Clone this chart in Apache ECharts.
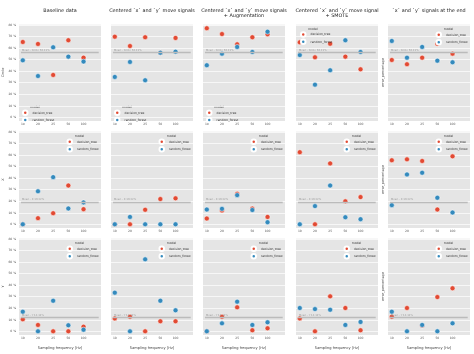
<!DOCTYPE html>
<html>
<head>
<meta charset="utf-8">
<script src="https://cdn.jsdelivr.net/npm/echarts@6/dist/echarts.min.js"></script>
<style>
  html, body { margin: 0; padding: 0; background: #fff; }
  #main { width: 474px; height: 354px; }
</style>
</head>
<body>
<div id="main"></div>
<script>
// sampling frequencies (x categories)
var categories = ['10', '20', '25', '50', '100'];
var models = ['decision_tree', 'random_forest'];
var rowNames = ['Circle', 'X', 'Y'];
var colTitles = [
  'Baseline data',
  'Centered `x` and `y` move signals',
  'Centered `x` and `y` move signals\n+ Augmentation',
  'Centered `x` and `y` move signal\n+ SMOTE',
  '`x` and `y` signals at the end'
];
var meanValues = [56.21, 19.32, 12.11];

// error percentage, one list per column
var dtCircle = [
  [65.3, 63.6, 36.7, 66.8, 51.7],
  [69.9, 61.8, 69.4, 56.0, 68.8],
  [77.2, 72.2, 63.3, 69.4, 72.0],
  [65.0, 52.0, 63.8, 52.6, 41.6],
  [49.7, 46.0, 51.7, 63.8, 55.2]
];
var rfCircle = [
  [49.4, 35.8, 60.7, 52.6, 48.3],
  [35.0, 48.0, 32.1, 56.0, 56.9],
  [45.1, 55.2, 61.0, 56.6, 74.2],
  [54.0, 28.3, 40.8, 66.8, 56.6],
  [66.2, 51.7, 61.0, 49.1, 47.7]
];
var dtX = [
  [0, 5.3, 9.6, 33.6, 13.1],
  [0, 0, 12.6, 21.9, 22.5],
  [5.0, 12.0, 26.5, 13.6, 6.4],
  [62.5, 0, 52.8, 19.9, 23.6],
  [55.5, 56.3, 54.9, 12.8, 58.9]
];
var rfX = [
  [0, 28.6, 40.9, 13.7, 19.0],
  [0, 6.4, 0, 0, 0],
  [12.8, 13.4, 25.3, 12.4, 1.8],
  [0, 15.8, 33.6, 6.1, 4.4],
  [16.6, 43.2, 44.7, 23.0, 10.2]
];
var dtY = [
  [10.4, 5.5, 0, 0, 4.0],
  [11.2, 12.7, 0, 8.7, 8.7],
  [0, 12.7, 20.8, 0.9, 2.6],
  [11.2, 0, 30.3, 20.2, 0.9],
  [12.7, 20.2, 5.0, 29.7, 37.3]
];
var rfY = [
  [17.0, 0, 26.5, 5.2, 1.4],
  [33.5, 0, 62.4, 26.5, 18.2],
  [0, 6.9, 25.7, 5.5, 7.8],
  [20.2, 19.3, 18.7, 5.5, 8.1],
  [17.0, 0, 5.5, 0, 6.9]
];

var rowData = [[dtCircle, rfCircle], [dtX, rfX], [dtY, rfY]];
var colors = ['#E24A33', '#348ABD'];

var colLeft = [19, 111, 203, 296, 388];
var colWidth = 82;
var rowTop = [24, 131, 238];
var rowHeight = 97;

var chart = echarts.init(document.getElementById('main'));

var grids = [], xAxes = [], yAxes = [], series = [], legends = [], graphics = [];

for (var r = 0; r < 3; r++) {
  for (var c = 0; c < 5; c++) {
    var idx = r * 5 + c;
    grids.push({
      left: colLeft[c], top: rowTop[r], width: colWidth, height: rowHeight,
      show: true, backgroundColor: '#E5E5E5', borderWidth: 0
    });
    xAxes.push({
      type: 'value', gridIndex: idx, min: -0.25, max: 5.15, splitNumber: 5,
      axisLine: { show: false }, axisTick: { show: false },
      splitLine: { show: false },
      axisLabel: {
        fontSize: 3, color: '#555', margin: 2,
        formatter: function (v) {
          return (Number.isInteger(v) && v >= 0 && v < categories.length) ? categories[v] : '';
        }
      },
      name: r === 2 ? 'Sampling frequency [Hz]' : '',
      nameLocation: 'middle', nameGap: 11,
      nameTextStyle: { fontSize: 3.6, color: '#444' }
    });
    var yName = c === 0 ? rowNames[r] : (c === 4 ? 'error_percentage' : '');
    yAxes.push({
      type: 'value', gridIndex: idx, min: -3.2, max: 80.9, splitNumber: 8,
      axisLine: { show: false }, axisTick: { show: false },
      splitLine: { lineStyle: { color: '#fff', width: 0.7 } },
      axisLabel: {
        show: c === 0, fontSize: 3, color: '#555', margin: 3,
        formatter: function (v) {
          return (Math.abs(v % 10) < 1e-6 && v >= 0 && v <= 80) ? Math.round(v) + ' %' : '';
        }
      },
      name: yName, nameLocation: 'middle', nameGap: c === 0 ? 13 : 3,
      nameTextStyle: { fontSize: 3.4, color: '#444' }
    });
    for (var m = 0; m < 2; m++) {
      var s = {
        type: 'scatter', name: models[m], xAxisIndex: idx, yAxisIndex: idx,
        symbolSize: 5,
        itemStyle: { color: colors[m], borderColor: '#fff', borderWidth: 0.5, opacity: 1 },
        data: rowData[r][m][c].map(function (v, i) { return [i, v]; }),
        z: 3 + m
      };
      if (m === 0) {
        s.markLine = {
          silent: true, symbol: 'none', animation: false,
          lineStyle: { color: '#BBBBBB', width: 1.3, type: 'solid' },
          label: {
            position: 'insideStartTop', distance: [1, 0.8], fontSize: 2.6, color: '#999',
            formatter: 'Mean - ' + rowNames[r] + ' ' + meanValues[r].toFixed(2) + '%'
          },
          data: [[{ coord: [-0.12, meanValues[r]] }, { coord: [5.0, meanValues[r]] }]]
        };
      }
      series.push(s);
    }

    // legend placement: lower left (row 1, cols 1-3), upper left (row 1 col 4), else upper right
    var lx, ly;
    if (r === 0 && c < 3) { lx = colLeft[c] + 3; ly = rowTop[r] + 85.5; }
    else if (r === 0 && c === 3) { lx = colLeft[c] + 4; ly = rowTop[r] + 7.3; }
    else { lx = colLeft[c] + 47.5; ly = rowTop[r] + 7.6; }
    legends.push({
      orient: 'vertical', left: lx, top: ly, padding: 0,
      itemWidth: 4.5, itemHeight: 4.5, itemGap: 0.8, icon: 'circle',
      selectedMode: false, data: models,
      textStyle: { fontSize: 3, color: '#333' }
    });
    graphics.push({
      type: 'text', x: lx + 13, y: ly - 2.2,
      style: { text: 'model', fontSize: 3, fill: '#333', align: 'center', textAlign: 'center',
               verticalAlign: 'middle', textVerticalAlign: 'middle', fontFamily: 'DejaVu Sans' }
    });
  }
}

for (var k = 0; k < 5; k++) {
  graphics.push({
    type: 'text', x: colLeft[k] + colWidth / 2, y: 7.5,
    style: { text: colTitles[k], fontSize: 4.9, lineHeight: 5.6, fill: '#222',
             align: 'center', textAlign: 'center', verticalAlign: 'top', textVerticalAlign: 'top',
             fontFamily: 'DejaVu Sans' }
  });
}

chart.setOption({
  animation: false,
  textStyle: { fontFamily: 'DejaVu Sans' },
  grid: grids,
  xAxis: xAxes,
  yAxis: yAxes,
  legend: legends,
  graphic: graphics,
  series: series
});
</script>
</body>
</html>
